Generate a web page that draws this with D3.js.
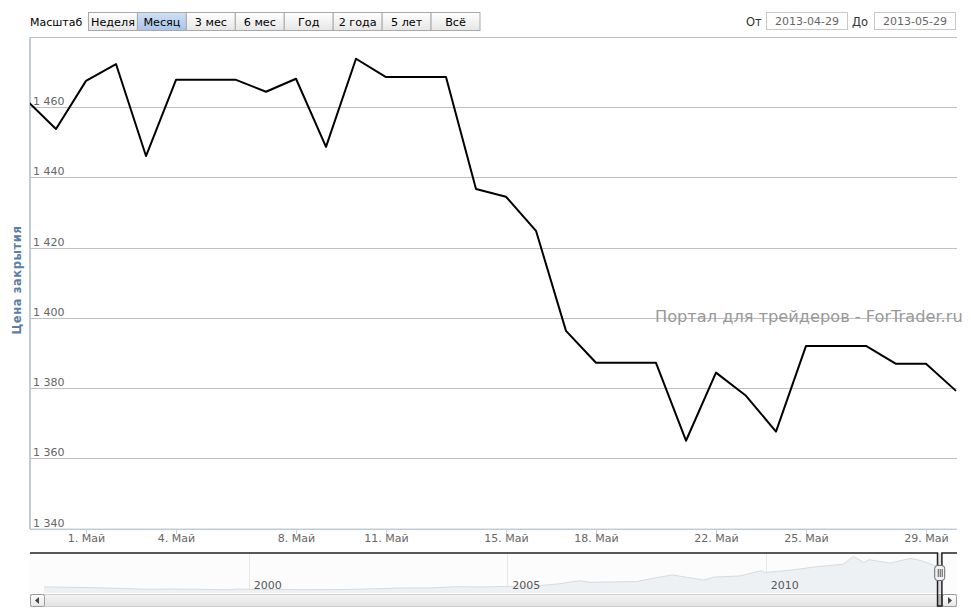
<!DOCTYPE html>
<html>
<head>
<meta charset="utf-8">
<script src="https://cdn.jsdelivr.net/npm/d3@7"></script>
<style>
  html, body { margin: 0; padding: 0; background: #fff; }
  svg { display: block; font-family: "DejaVu Sans", Verdana, sans-serif; }
</style>
</head>
<body>
<svg id="chart" width="971" height="612"></svg>
<script>
// ---------- data ----------
const dates = ["2013-04-29","2013-04-30","2013-05-01","2013-05-02","2013-05-03","2013-05-04","2013-05-05",
  "2013-05-06","2013-05-07","2013-05-08","2013-05-09","2013-05-10","2013-05-11","2013-05-12","2013-05-13",
  "2013-05-14","2013-05-15","2013-05-16","2013-05-17","2013-05-18","2013-05-19","2013-05-20","2013-05-21",
  "2013-05-22","2013-05-23","2013-05-24","2013-05-25","2013-05-26","2013-05-27","2013-05-28","2013-05-29","2013-05-30"];
const closes = [1462.1,1453.8,1467.5,1472.3,1446.1,1467.8,1467.8,
  1467.8,1464.4,1468.1,1448.7,1473.8,1468.6,1468.6,1468.6,
  1436.7,1434.5,1424.8,1396.3,1387.2,1387.2,1387.2,1365.0,
  1384.4,1377.8,1367.6,1392.0,1392.0,1392.0,1386.9,1386.9,1379.2];
const yTicks = [1340,1360,1380,1400,1420,1440,1460,1480];
const xTickDates = ["2013-05-01","2013-05-04","2013-05-08","2013-05-11","2013-05-15","2013-05-18","2013-05-22","2013-05-25","2013-05-29"];
const xTickLabels = ["1. Май","4. Май","8. Май","11. Май","15. Май","18. Май","22. Май","25. Май","29. Май"];
const rangeButtons = ["Неделя","Месяц","3 мес","6 мес","Год","2 года","5 лет","Всё"];
const selectedButton = "Месяц";
const fromDate = "2013-04-29", toDate = "2013-05-29";
const yTitle = "Цена закрытия";
const watermark = "Портал для трейдеров - ForTrader.ru";

// navigator (long history, decimal years)
const navYears = [1996.04,1996.5,1997.0,1997.5,1998.0,1998.5,1999.0,1999.6,1999.8,2000.0,2000.5,2001.0,2001.5,
  2002.0,2002.5,2003.0,2003.5,2004.0,2004.5,2005.0,2005.5,2006.0,2006.4,2006.6,2007.0,2007.5,2008.0,2008.2,
  2008.8,2009.0,2009.5,2009.9,2010.0,2010.5,2011.0,2011.5,2011.7,2011.9,2012.0,2012.4,2012.8,2013.0,2013.3,2013.41];
const navValues = [400,385,360,330,290,295,287,260,300,285,285,265,270,
  280,315,350,350,410,395,425,430,550,700,620,640,660,900,980,
  730,880,930,1180,1100,1220,1380,1500,1880,1580,1720,1560,1780,1680,1400,1390];
const navYearTicks = [2000,2005,2010];

// ---------- helpers ----------
const parse = d3.timeParse("%Y-%m-%d");
const fromDec = y => { const yr = Math.floor(y); const s = new Date(yr,0,1), e = new Date(yr+1,0,1); return new Date(+s + (y-yr)*(e-s)); };

const svg = d3.select("#chart");
const plot = { left: 30, right: 957, top: 37, bottom: 528.5 };

// ---------- scales ----------
const x = d3.scaleTime().domain([parse("2013-04-29"), parse("2013-05-30")]).range([26, 956]);
const y = d3.scaleLinear().domain([1340, 1480]).range([plot.bottom, plot.top]);

// ---------- defs ----------
const defs = svg.append("defs");
const g1 = defs.append("linearGradient").attr("id","btn").attr("x1",0).attr("y1",0).attr("x2",0).attr("y2",1);
g1.append("stop").attr("offset","0%").attr("stop-color","#ffffff");
g1.append("stop").attr("offset","100%").attr("stop-color","#e6e6e6");
const g2 = defs.append("linearGradient").attr("id","btnSel").attr("x1",0).attr("y1",0).attr("x2",0).attr("y2",1);
g2.append("stop").attr("offset","0%").attr("stop-color","#d0e0f6");
g2.append("stop").attr("offset","100%").attr("stop-color","#a9c3e8");
const g3 = defs.append("linearGradient").attr("id","scroll").attr("x1",0).attr("y1",0).attr("x2",0).attr("y2",1);
g3.append("stop").attr("offset","0%").attr("stop-color","#f4f4f4");
g3.append("stop").attr("offset","100%").attr("stop-color","#e2e2e2");
defs.append("clipPath").attr("id","plotClip").append("rect")
  .attr("x", plot.left).attr("y", plot.top - 5).attr("width", plot.right - plot.left).attr("height", plot.bottom - plot.top + 10);

// ---------- gridlines & y labels ----------
const grid = svg.append("g");
yTicks.forEach(v => {
  const yy = Math.round(y(v)) + 0.5;
  grid.append("line").attr("x1", plot.left).attr("x2", plot.right).attr("y1", yy).attr("y2", yy)
    .attr("stroke", "#c0c0c0").attr("stroke-width", 1);
  if (v !== 1480) {
    grid.append("text").attr("x", 33).attr("y", yy - 3).attr("font-size", 11).attr("fill", "#666").text(d3.format(",")(v).replace(",", " "));
  }
});

// x axis line + ticks + labels
svg.append("line").attr("x1", plot.left).attr("x2", plot.right).attr("y1", 529).attr("y2", 529).attr("stroke", "#c0d0e0");
xTickDates.forEach((d, i) => {
  const xx = Math.round(x(parse(d))) + 0.5;
  svg.append("line").attr("x1", xx).attr("x2", xx).attr("y1", 529).attr("y2", 534).attr("stroke", "#c0d0e0");
  svg.append("text").attr("x", xx).attr("y", 542).attr("text-anchor", "middle").attr("font-size", 11).attr("fill", "#666").text(xTickLabels[i]);
});

// left axis line
svg.append("line").attr("x1", 30).attr("x2", 30).attr("y1", plot.top).attr("y2", 529).attr("stroke", "#c0ccd8").attr("stroke-width", 2);

// y axis title
svg.append("text").attr("transform", "translate(21,280) rotate(-90)").attr("text-anchor", "middle")
  .attr("font-size", 11.5).attr("font-weight", "bold").attr("fill", "#5b7ea6").attr("letter-spacing", 0.6).text(yTitle);

// watermark
svg.append("text").attr("x", 655).attr("y", 322).attr("font-size", 16.2).attr("fill", "#999").text(watermark);

// ---------- line ----------
const pts = dates.map((d, i) => ({ d: parse(d), v: closes[i] }));
svg.append("g").attr("clip-path", "url(#plotClip)").append("path").datum(pts)
  .attr("d", d3.line().x(p => x(p.d)).y(p => y(p.v)))
  .attr("fill", "none").attr("stroke", "#000").attr("stroke-width", 2).attr("stroke-linejoin", "round");

// ---------- range selector ----------
svg.append("text").attr("x", 30).attr("y", 26).attr("font-size", 11).attr("fill", "#000").text("Масштаб");
const bx = d3.scaleBand().domain(rangeButtons).range([88.5, 480]);
rangeButtons.forEach(b => {
  const g = svg.append("g");
  g.append("rect").attr("x", bx(b)).attr("y", 12.5).attr("width", bx.bandwidth()).attr("height", 18)
    .attr("fill", b === selectedButton ? "url(#btnSel)" : "url(#btn)").attr("stroke", "#a9a9a9");
  g.append("text").attr("x", bx(b) + bx.bandwidth() / 2).attr("y", 26).attr("text-anchor", "middle")
    .attr("font-size", 11.2).attr("fill", "#000").text(b);
});
svg.append("text").attr("x", 746).attr("y", 26).attr("font-size", 11.5).attr("fill", "#333").text("От");
svg.append("rect").attr("x", 766.5).attr("y", 12.5).attr("width", 81).attr("height", 17).attr("fill", "#fff").attr("stroke", "#c8c8c8");
svg.append("text").attr("x", 807).attr("y", 25).attr("text-anchor", "middle").attr("font-size", 11).attr("fill", "#666").text(fromDate);
svg.append("text").attr("x", 852).attr("y", 26).attr("font-size", 11.5).attr("fill", "#333").text("До");
svg.append("rect").attr("x", 874.5).attr("y", 12.5).attr("width", 81).attr("height", 17).attr("fill", "#fff").attr("stroke", "#c8c8c8");
svg.append("text").attr("x", 915).attr("y", 25).attr("text-anchor", "middle").attr("font-size", 11).attr("fill", "#666").text(toDate);

// ---------- navigator ----------
const nav = { left: 30, right: 957, top: 553, bottom: 593 };
const nx = d3.scaleTime().domain([fromDec(1996.04), fromDec(2013.41)]).range([44, 942]);
const ny = d3.scaleLinear().domain([250, 1900]).range([590, 556]);
svg.append("rect").attr("x", nav.left).attr("y", nav.top).attr("width", nav.right - nav.left).attr("height", nav.bottom - nav.top).attr("fill", "#fcfcfc");
navYearTicks.forEach(yr => {
  const xx = Math.round(nx(new Date(yr, 0, 1))) + 0.5;
  svg.append("line").attr("x1", xx).attr("x2", xx).attr("y1", nav.top).attr("y2", nav.bottom).attr("stroke", "#e8e8e8");
});
const navPts = navYears.map((yv, i) => ({ d: fromDec(yv), v: navValues[i] }));
svg.append("path").datum(navPts)
  .attr("d", d3.area().x(p => nx(p.d)).y0(nav.bottom).y1(p => ny(p.v)))
  .attr("fill", "#eef1f4");
svg.append("path").datum(navPts)
  .attr("d", d3.line().x(p => nx(p.d)).y(p => ny(p.v)))
  .attr("fill", "none").attr("stroke", "#d6dbe1").attr("stroke-width", 1);
navYearTicks.forEach(yr => {
  const xx = nx(new Date(yr, 0, 1));
  svg.append("text").attr("x", xx + 5).attr("y", 589).attr("font-size", 11).attr("fill", "#555").text(yr);
});
// selected range
const selL = nx(parse(fromDate)), selR = nx(parse("2013-05-30"));
svg.append("rect").attr("x", selL).attr("y", nav.top).attr("width", Math.max(selR - selL, 4)).attr("height", nav.bottom - nav.top).attr("fill", "rgba(200,200,210,0.5)");

// scrollbar
svg.append("rect").attr("x", 30.5).attr("y", 594.5).attr("width", 926).attr("height", 12).attr("fill", "url(#scroll)").attr("stroke", "#d0d0d0");
svg.append("rect").attr("x", selL).attr("y", 594.5).attr("width", Math.max(selR - selL, 4)).attr("height", 12).attr("fill", "#bbb").attr("stroke", "#999");
[[30.5, "M39,597 L35,600.5 L39,604 Z"], [942.5, "M948,597 L952,600.5 L948,604 Z"]].forEach(([bxp, arrow]) => {
  svg.append("rect").attr("x", bxp).attr("y", 594.5).attr("width", 14).attr("height", 12).attr("rx", 2).attr("fill", "url(#btn)").attr("stroke", "#999");
  svg.append("path").attr("d", arrow).attr("fill", "#444");
});

// outline
svg.append("path")
  .attr("d", `M${nav.left},${nav.top} L${selL},${nav.top} L${selL},606 L${selR},606 L${selR},${nav.top} L${nav.right},${nav.top}`)
  .attr("fill", "none").attr("stroke", "#222").attr("stroke-width", 1.5);

// handle
const hc = (selL + selR) / 2;
svg.append("rect").attr("x", hc - 5).attr("y", 565.5).attr("width", 10).attr("height", 15).attr("rx", 3)
  .attr("fill", "#f2f2f2").attr("stroke", "#666");
[-2, 0, 2].forEach(o => svg.append("line").attr("x1", hc + o + 0.5).attr("x2", hc + o + 0.5).attr("y1", 569).attr("y2", 577).attr("stroke", "#555"));
</script>
</body>
</html>
